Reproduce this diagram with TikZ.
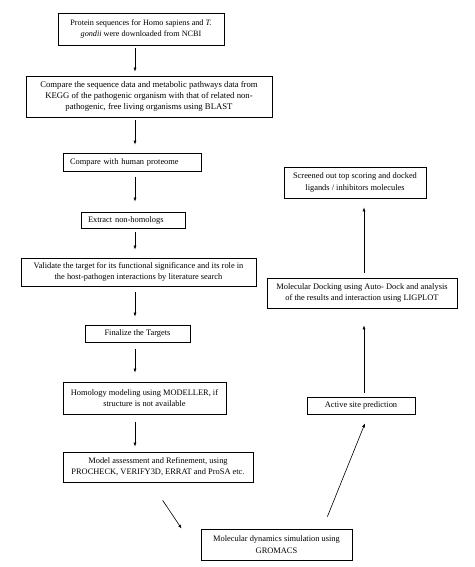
\documentclass[tikz,border=0pt]{standalone}
\usepackage{fontspec}
\setmainfont{Liberation Serif}
\usetikzlibrary{arrows.meta}
\begin{document}
\begin{tikzpicture}[
              x = 1pt, y = -1pt,
              >={Latex[length=4pt,width=3pt]},
              stepbox/.style = {draw, line width = 0.7pt, align = center, inner sep = 2pt,
                                font = \fontsize{8.4}{11.3}\selectfont},
              leftbox/.style = {stepbox, align = left, inner xsep = 7pt},
              flow/.style = {->, line width = 0.6pt}
            ]
            \useasboundingbox (0,0) rectangle (474,567);
            % nodes
            \node[stepbox, font = \fontsize{8.2}{11.5}\selectfont,
                  minimum width = 166pt, minimum height = 32pt] (ncbi) at (141, 29)
                 {Protein sequences for Homo sapiens and \textit{T.}\\ \textit{gondii} were downloaded from NCBI};
            \node[stepbox, font = \fontsize{8.7}{11.2}\selectfont,
                  minimum width = 246pt, minimum height = 41pt] (kegg) at (149, 96.5)
                 {Compare the sequence data and metabolic pathways data from\\ KEGG of the pathogenic organism with that of related non-\\ pathogenic, free living organisms using BLAST};
            \node[leftbox, text width = 124pt, minimum height = 18pt] (human) at (132, 162)
                 {Compare with human proteome};
            \node[leftbox, text width = 90pt, minimum height = 16pt] (nonhom) at (133, 220)
                 {Extract non-homologs};
            \node[stepbox, minimum width = 235pt, minimum height = 28pt] (valid) at (138.5, 272)
                 {Validate the target for its functional significance and its role in\\ the host-pathogen interactions by literature search};
            \node[stepbox, minimum width = 105pt, minimum height = 17pt] (final) at (137.5, 333.5)
                 {Finalize the Targets};
            \node[stepbox, minimum width = 163pt, minimum height = 32pt] (homol) at (144.5, 398)
                 {Homology modeling using MODELLER, if\\ structure is not available};
            \node[stepbox, minimum width = 190pt, minimum height = 30pt] (refine) at (158, 467)
                 {Model assessment and Refinement, using\\ PROCHECK, VERIFY3D, ERRAT and ProSA etc.};
            \node[stepbox, minimum width = 151pt, minimum height = 31pt] (gromacs) at (276.5, 544.5)
                 {Molecular dynamics simulation using\\ GROMACS};
            \node[stepbox, minimum width = 108pt, minimum height = 17pt] (site) at (361, 405.5)
                 {Active site prediction};
            \node[stepbox, minimum width = 190pt, minimum height = 30pt] (dock) at (362, 293)
                 {Molecular Docking using Auto- Dock and analysis\\ of the results and interaction using LIGPLOT};
            \node[stepbox, minimum width = 142pt, minimum height = 31pt] (screen) at (355, 182.5)
                 {Screened out top scoring and docked\\ ligands / inhibitors molecules};
            % the two lanes of arrows
            \coordinate (lane)  at (135, 0);
            \coordinate (rlane) at (364, 0);
            % the way down
            \draw[flow, shorten <= 3pt, shorten >= 4pt] (ncbi.south -| lane)   -- (kegg.north -| lane);
            \draw[flow, shorten <= 3pt, shorten >= 8pt] (kegg.south -| lane)   -- (human.north -| lane);
            \draw[flow, shorten <= 6pt, shorten >= 10pt] (human.south -| lane) -- (nonhom.north -| lane);
            \draw[flow, shorten <= 4pt, shorten >= 8pt] (nonhom.south -| lane) -- (valid.north -| lane);
            \draw[flow, shorten <= 6pt, shorten >= 8pt] (valid.south -| lane)  -- (final.north -| lane);
            \draw[flow, shorten <= 7pt, shorten >= 9pt] (final.south -| lane)  -- (homol.north -| lane);
            \draw[flow, shorten <= 8pt, shorten >= 5pt] (homol.south -| lane)  -- (refine.north -| lane);
            % across the bottom
            \draw[flow] ([shift={(100,18)}]refine.south west) -- ([shift={(-19,0)}]gromacs.north west);
            \draw[flow] ([shift={(-25,-12)}]gromacs.north east) -- ([shift={(4,9)}]site.south);
            % the way up
            \draw[flow, shorten <= 4pt, shorten >= 17pt] (site.north -| rlane) -- (dock.south -| rlane);
            \draw[flow, shorten <= 5pt, shorten >= 9pt] (dock.north -| rlane)  -- (screen.south -| rlane);
          \end{tikzpicture}
\end{document}
